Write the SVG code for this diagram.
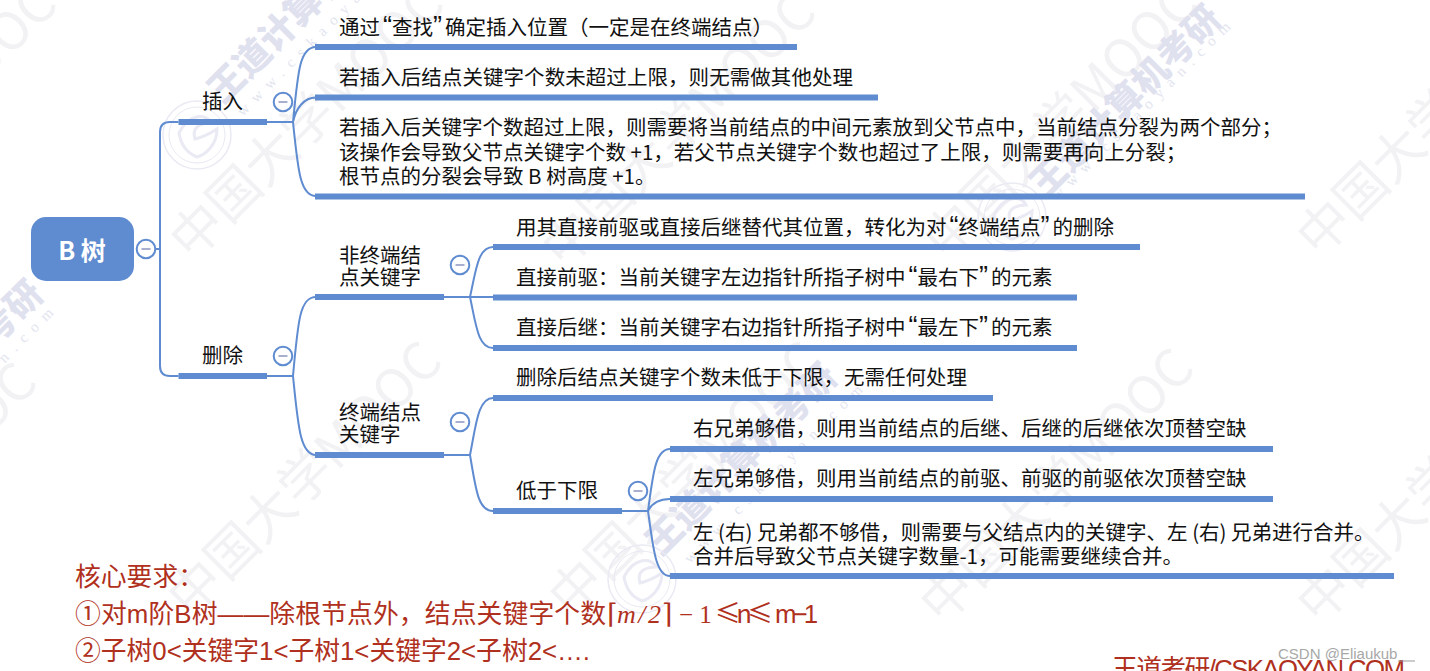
<svg xmlns="http://www.w3.org/2000/svg" width="1430" height="671" viewBox="0 0 1430 671">
<style>
text{font-family:"Noto Sans CJK SC","Liberation Sans",sans-serif}
.t{font-size:20.500px;fill:#111}
.q{font-family:"Liberation Sans",sans-serif;font-size:27px}
.r{font-size:25.800px;fill:#b03020;font-family:"Liberation Sans","Noto Sans CJK SC",sans-serif}
.bar{stroke:#5f8bd0;stroke-width:6;fill:none}
.c{stroke:#5f8bd0;stroke-width:2;fill:none}
.m circle{fill:#fff;stroke:#5f8bd0;stroke-width:2}
.m line{stroke:#a9b0cf;stroke-width:2}
.w1{font-size:52px;fill:#f2f2f5}
.w2{font-size:36px;fill:#dfe1ef;font-weight:900}
.w3{font-size:15px;fill:#e2e4ef;font-family:"Liberation Serif",serif}
.s circle,.s path{fill:none;stroke:#e9eaf3}
</style>
<defs>
<g id="minus" class="m"><circle r="9.300"/><line x1="-4.500" x2="4.500"/></g>
<g id="seal" class="s"><circle r="34" stroke-width="1.500"/><circle r="28" stroke-width="1"/><path d="M-18 -2C-8 -22 10 -22 14 -12C4 -12 -6 -8 -2 4C6 2 14 -2 20 -6C20 10 8 20 0 22C-10 18 -16 10 -18 -2Z" stroke-width="3"/></g>
</defs>
<g id="watermarks">
<text class="w1" transform="translate(-195 262) rotate(-45)">中国大学MOOC</text>
<text class="w1" transform="translate(192 262) rotate(-45)">中国大学MOOC</text>
<text class="w1" transform="translate(564 270) rotate(-45)">中国大学MOOC</text>
<text class="w1" transform="translate(946 262) rotate(-45)">中国大学MOOC</text>
<text class="w1" transform="translate(1319 259) rotate(-45)">中国大学MOOC</text>
<text class="w1" transform="translate(-215 640) rotate(-45)">中国大学MOOC</text>
<text class="w1" transform="translate(190 619) rotate(-45)">中国大学MOOC</text>
<text class="w1" transform="translate(571 619) rotate(-45)">中国大学MOOC</text>
<text class="w1" transform="translate(942 626) rotate(-45)">中国大学MOOC</text>
<text class="w1" transform="translate(1319 626) rotate(-45)">中国大学MOOC</text>
<text class="w2" transform="translate(223 105) rotate(-45)">王道计算机考研</text>
<text class="w2" transform="translate(1045 199) rotate(-45)">王道计算机考研</text>
<text class="w2" transform="translate(661 557) rotate(-45)">王道计算机考研</text>
<text class="w2" transform="translate(-133 474) rotate(-45)">王道计算机考研</text>
<text class="w3" transform="translate(243 117) rotate(-45)" textLength="245">www.cskaoyan.com</text>
<text class="w3" transform="translate(1058 201) rotate(-45)" textLength="245">www.cskaoyan.com</text>
<text class="w3" transform="translate(690 564) rotate(-45)" textLength="245">www.cskaoyan.com</text>
<text class="w3" transform="translate(-119 487) rotate(-45)" textLength="245">www.cskaoyan.com</text>
<use href="#seal" x="197" y="135"/>
<use href="#seal" x="1012" y="217"/>
<use href="#seal" x="642" y="579"/>
</g>
<g id="connectors">
<path class="c" d="M155 249H160M178.500 122H170Q160 122 160 132V366Q160 376 170 376H178.500"/>
<path class="c" d="M267 122H293M316 47C300 47 298 70 293 122M316 97.500C304 97.500 296 108 293 122M293 122C298 170 300 196 316 196"/>
<path class="c" d="M267 376H293M316 297C300 297 298 320 293 376M293 376C298 425 300 455 316 455"/>
<path class="c" d="M444 297H470M493 247C478 247 476 270 470 297M470 297H493M470 297C476 325 478 348 493 348"/>
<path class="c" d="M444 455H470M493 398C478 398 476 425 470 455M470 455C476 490 478 511 493 511"/>
<path class="c" d="M622 511H648M670 449C655 449 653 475 648 511M670 499C659 499 652 503 648 511M648 511C653 545 655 576 670 576"/>
<g class="bar">
<path d="M178.500 122H267"/><path d="M315 47H797"/><path d="M315 97.500H878"/><path d="M315 196.500H1305"/>
<path d="M178.500 376H267"/><path d="M315 297H444"/><path d="M315 455H444"/>
<path d="M493 247H1140"/><path d="M493 297.500H1077"/><path d="M493 348H1077"/>
<path d="M493 398H993"/><path d="M493 511H622"/>
<path d="M670 449H1273"/><path d="M670 499H1273"/><path d="M670 576H1394"/>
</g>
</g>
<g id="root"><rect x="31" y="217" width="103" height="64" rx="15" fill="#5f8bd0"/><text x="82" y="260" text-anchor="middle" font-size="25" font-weight="700" fill="#fff">B 树</text><use href="#minus" x="146" y="249"/></g>
<g id="insert"><text class="t" x="202" y="109">插入</text><use href="#minus" x="283" y="102"/></g>
<g id="n1"><text class="t" x="339" y="35">通过<tspan class="q" dx="3">“</tspan>查找<tspan class="q">”</tspan><tspan dx="3">确定插入位置（一定是在终端结点）</tspan></text></g>
<g id="n2"><text class="t" x="339" y="85" textLength="514">若插入后结点关键字个数未超过上限，则无需做其他处理</text></g>
<g id="n3"><text class="t" x="339" y="135">若插入后关键字个数超过上限，则需要将当前结点的中间元素放到父节点中，当前结点分裂为两个部分；</text><text class="t" x="339" y="160">该操作会导致父节点关键字个数 +1，若父节点关键字个数也超过了上限，则需要再向上分裂；</text><text class="t" x="339" y="184">根节点的分裂会导致 B 树高度 +1。</text></g>
<g id="delete"><text class="t" x="202" y="363">删除</text><use href="#minus" x="283" y="356"/></g>
<g id="nonterm"><text class="t" x="339" y="263">非终端结</text><text class="t" x="339" y="285">点关键字</text><use href="#minus" x="460" y="265"/></g>
<g id="n4"><text class="t" x="516" y="235">用其直接前驱或直接后继替代其位置，转化为对<tspan class="q" dx="3">“</tspan>终端结点<tspan class="q">”</tspan><tspan dx="3">的删除</tspan></text></g>
<g id="n5"><text class="t" x="516" y="285">直接前驱：当前关键字左边指针所指子树中<tspan class="q" dx="3">“</tspan>最右下<tspan class="q">”</tspan><tspan dx="3">的元素</tspan></text></g>
<g id="n6"><text class="t" x="516" y="335">直接后继：当前关键字右边指针所指子树中<tspan class="q" dx="3">“</tspan>最左下<tspan class="q">”</tspan><tspan dx="3">的元素</tspan></text></g>
<g id="term"><text class="t" x="339" y="420">终端结点</text><text class="t" x="339" y="442">关键字</text><use href="#minus" x="460" y="422"/></g>
<g id="n7"><text class="t" x="516" y="385">删除后结点关键字个数未低于下限，无需任何处理</text></g>
<g id="low"><text class="t" x="516" y="498">低于下限</text><use href="#minus" x="638" y="491"/></g>
<g id="n8"><text class="t" x="693" y="436">右兄弟够借，则用当前结点的后继、后继的后继依次顶替空缺</text></g>
<g id="n9"><text class="t" x="693" y="486">左兄弟够借，则用当前结点的前驱、前驱的前驱依次顶替空缺</text></g>
<g id="n10"><text class="t" x="693" y="540">左 (右) 兄弟都不够借，则需要与父结点内的关键字、左 (右) 兄弟进行合并。</text><text class="t" x="693" y="564">合并后导致父节点关键字数量-1，可能需要继续合并。</text></g>
<g id="notes">
<text class="r" x="75" y="586">核心要求：</text>
<text class="r" x="75" y="623" textLength="531">①对m阶B树——除根节点外，结点关键字个数</text>
<text x="607" y="623" font-size="27" fill="#b03020" style="font-family:'DejaVu Serif',serif">⌈</text>
<text x="617" y="623" font-size="26" font-style="italic" fill="#b03020" textLength="44" style="font-family:'Liberation Serif',serif">m/2</text>
<text x="662" y="623" font-size="27" fill="#b03020" style="font-family:'DejaVu Serif',serif">⌉</text>
<text x="679" y="623" font-size="25" fill="#b03020" style="font-family:'Liberation Serif',serif">− 1</text>
<text class="r" x="715" y="623" textLength="58" style="font-family:'Noto Sans CJK SC','Liberation Sans',sans-serif">≤n≤</text>
<text class="r" x="775" y="623" textLength="43">m−1</text>
<text class="r" x="75" y="660" textLength="515">②子树0&lt;关键字1&lt;子树1&lt;关键字2&lt;子树2&lt;….</text>
<text class="r" x="1112" y="678" textLength="293">王道考研/CSKAOYAN.COM</text>
<text x="1278" y="659" font-size="15" fill="#a8a8a8" style="font-family:'Liberation Sans',sans-serif">CSDN @Eliaukub</text>
<line x1="1398" y1="661" x2="1415" y2="661" stroke="#999"/>
</g>
</svg>
